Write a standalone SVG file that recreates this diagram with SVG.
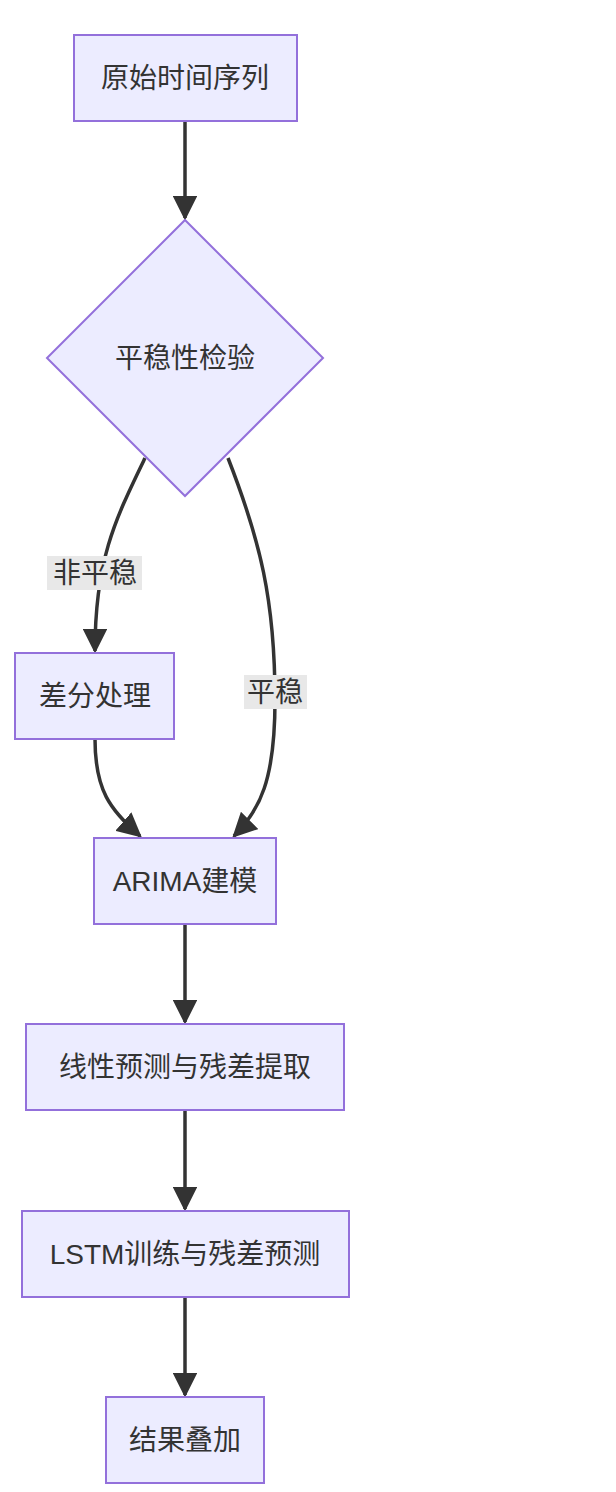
<svg xmlns="http://www.w3.org/2000/svg" width="616" height="1492" viewBox="0 0 616 1492">
<style>
.n{fill:#ECECFF;stroke:#9370DB;stroke-width:2}
.t{font-family:"Liberation Sans","Noto Sans CJK SC",sans-serif;font-size:28px;fill:#333;text-anchor:middle;dominant-baseline:central}
.e{fill:none;stroke:#333;stroke-width:3.5}
.lb{fill:#E8E8E8}
</style>
<defs><marker id="a" viewBox="0 0 10 10" refX="9" refY="5" markerWidth="7" markerHeight="7" markerUnits="userSpaceOnUse" orient="auto"><path d="M0,0L10,5L0,10z" fill="#333"/></marker>
<marker id="m" viewBox="0 0 10 10" refX="9" refY="5" markerWidth="7" markerHeight="7" orient="auto"><path d="M0,0L10,5L0,10z" fill="#333"/></marker></defs>
<g id="edges">
<path class="e" marker-end="url(#m)" d="M185,121V218"/>
<path class="e" marker-end="url(#m)" d="M145,458C115,520 95,560 95,651"/>
<path class="e" marker-end="url(#m)" d="M228,458C260,540 275,600 275,700C275,780 260,810 234,836"/>
<path class="e" marker-end="url(#m)" d="M95,739C95,790 110,810 140,836"/>
<path class="e" marker-end="url(#m)" d="M185,924V1022"/>
<path class="e" marker-end="url(#m)" d="M185,1110V1209"/>
<path class="e" marker-end="url(#m)" d="M185,1297V1395"/>
<rect class="lb" x="47" y="556" width="95" height="34"/><text class="t" x="95" y="573">非平稳</text>
<rect class="lb" x="244" y="675" width="63" height="34"/><text class="t" x="275" y="692">平稳</text>
</g>
<g id="n1"><rect class="n" x="74" y="35" width="223" height="86"/><text class="t" x="185" y="78">原始时间序列</text></g>
<g id="n2"><path class="n" d="M185,220L323,358L185,496L47,358Z"/><text class="t" x="185" y="358">平稳性检验</text></g>
<g id="n3"><rect class="n" x="15" y="653" width="159" height="86"/><text class="t" x="95" y="696">差分处理</text></g>
<g id="n4"><rect class="n" x="94" y="838" width="182" height="86"/><text class="t" x="185" y="881">ARIMA建模</text></g>
<g id="n5"><rect class="n" x="26" y="1024" width="318" height="86"/><text class="t" x="185" y="1067">线性预测与残差提取</text></g>
<g id="n6"><rect class="n" x="22" y="1211" width="327" height="86"/><text class="t" x="185" y="1254">LSTM训练与残差预测</text></g>
<g id="n7"><rect class="n" x="106" y="1397" width="158" height="86"/><text class="t" x="185" y="1440">结果叠加</text></g>
</svg>
